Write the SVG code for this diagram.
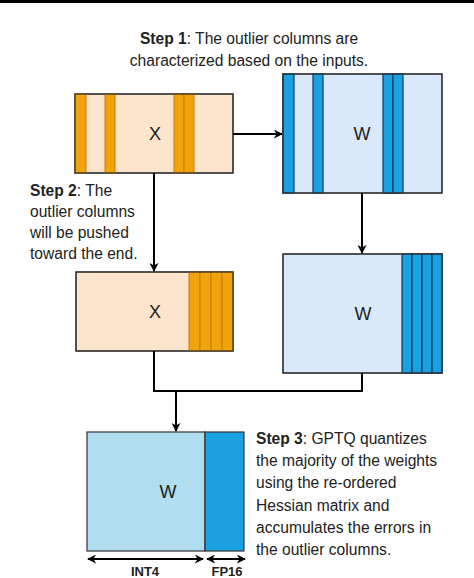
<svg xmlns="http://www.w3.org/2000/svg" width="474" height="578" viewBox="0 0 474 578">
<defs>
<style>
.t{font-family:"Liberation Sans",Arial,sans-serif;font-size:15.6px;fill:#222}
.b{font-weight:bold}
.lbl{font-family:"Liberation Sans",Arial,sans-serif;font-size:18px;fill:#222;text-anchor:middle}
.bx{stroke:#333;stroke-width:1.2}
.xf{fill:#fde4cc}
.wf{fill:#dae8fc}
.oc{fill:#f0a30a;stroke:#c97c00;stroke-width:1}
.bc{fill:#1ba1e2;stroke:#0a3d5c;stroke-width:1.2}
.ln{fill:none;stroke:#000;stroke-width:2}
.dim{font-family:"Liberation Sans",Arial,sans-serif;font-size:13px;font-weight:bold;fill:#222;text-anchor:middle}
</style>
<marker id="ah2" viewBox="0 0 10 10" refX="9" refY="5" markerWidth="9" markerHeight="9" markerUnits="userSpaceOnUse" orient="auto-start-reverse">
<path d="M0,0 L10,5 L0,10 L3,5 Z" fill="#000"/>
</marker>
</defs>
<rect x="0" y="0" width="474" height="3" fill="#000"/>

<g id="step1">
<text class="t" x="249" y="44" text-anchor="middle"><tspan class="b">Step 1</tspan>: The outlier columns are</text>
<text class="t" x="249" y="66" text-anchor="middle">characterized based on the inputs.</text>
</g>

<g id="x1">
<rect class="bx xf" x="75" y="94" width="158" height="79"/>
<rect class="oc" x="75" y="94" width="11" height="79"/>
<rect class="oc" x="105" y="94" width="10" height="79"/>
<rect class="oc" x="174" y="94" width="10" height="79"/>
<rect class="oc" x="184" y="94" width="10" height="79"/>
<rect class="bx" x="75" y="94" width="158" height="79" fill="none"/>
<text class="lbl" x="155" y="140">X</text>
</g>

<g id="w1">
<rect class="bx wf" x="283" y="74" width="159" height="119"/>
<rect class="bc" x="283" y="74" width="11" height="119"/>
<rect class="bc" x="313" y="74" width="10" height="119"/>
<rect class="bc" x="383" y="74" width="10" height="119"/>
<rect class="bc" x="393" y="74" width="10" height="119"/>
<rect class="bx" x="283" y="74" width="159" height="119" fill="none"/>
<text class="lbl" x="362" y="140">W</text>
</g>

<g id="step2">
<text class="t" x="30" y="196"><tspan class="b">Step 2</tspan>: The</text>
<text class="t" x="30" y="217">outlier columns</text>
<text class="t" x="30" y="238">will be pushed</text>
<text class="t" x="30" y="259">toward the end.</text>
</g>

<g id="x2">
<rect class="bx xf" x="76" y="272" width="157" height="79"/>
<rect class="oc" x="189" y="272" width="11" height="79"/>
<rect class="oc" x="200" y="272" width="11" height="79"/>
<rect class="oc" x="211" y="272" width="11" height="79"/>
<rect class="oc" x="222" y="272" width="11" height="79"/>
<rect class="bx" x="76" y="272" width="157" height="79" fill="none"/>
<text class="lbl" x="155" y="318">X</text>
</g>

<g id="w2">
<rect class="bx wf" x="283" y="254" width="159" height="119"/>
<rect class="bc" x="402" y="254" width="10" height="119"/>
<rect class="bc" x="412" y="254" width="10" height="119"/>
<rect class="bc" x="422" y="254" width="10" height="119"/>
<rect class="bc" x="432" y="254" width="10" height="119"/>
<rect class="bx" x="283" y="254" width="159" height="119" fill="none"/>
<text class="lbl" x="363" y="320">W</text>
</g>

<g id="w3">
<rect class="bx" x="87" y="432" width="118" height="119" fill="#b1ddf0"/>
<rect class="bx" x="205" y="432" width="39" height="119" fill="#1ba1e2"/>
<text class="lbl" x="168" y="498">W</text>
</g>

<g id="step3">
<text class="t" x="256" y="444"><tspan class="b">Step 3</tspan>: GPTQ quantizes</text>
<text class="t" x="256" y="466">the majority of the weights</text>
<text class="t" x="256" y="488">using the re-ordered</text>
<text class="t" x="256" y="511">Hessian matrix and</text>
<text class="t" x="256" y="533">accumulates the errors in</text>
<text class="t" x="256" y="555">the outlier columns.</text>
</g>

<g id="connectors">
<line class="ln" x1="233" y1="134" x2="282" y2="134" marker-end="url(#ah2)"/>
<line class="ln" x1="154" y1="173" x2="154" y2="271" marker-end="url(#ah2)"/>
<line class="ln" x1="362" y1="193" x2="362" y2="253" marker-end="url(#ah2)"/>
<polyline class="ln" points="154,351 154,391 362,391 362,373"/>
<line class="ln" x1="176" y1="391" x2="176" y2="431" marker-end="url(#ah2)"/>
<line class="ln" x1="88" y1="559" x2="203" y2="559" marker-start="url(#ah2)" marker-end="url(#ah2)"/>
<line class="ln" x1="207" y1="559" x2="245" y2="559" marker-start="url(#ah2)" marker-end="url(#ah2)"/>
</g>

<g id="dims">
<text class="dim" x="145" y="576">INT4</text>
<text class="dim" x="227" y="576">FP16</text>
</g>
</svg>
